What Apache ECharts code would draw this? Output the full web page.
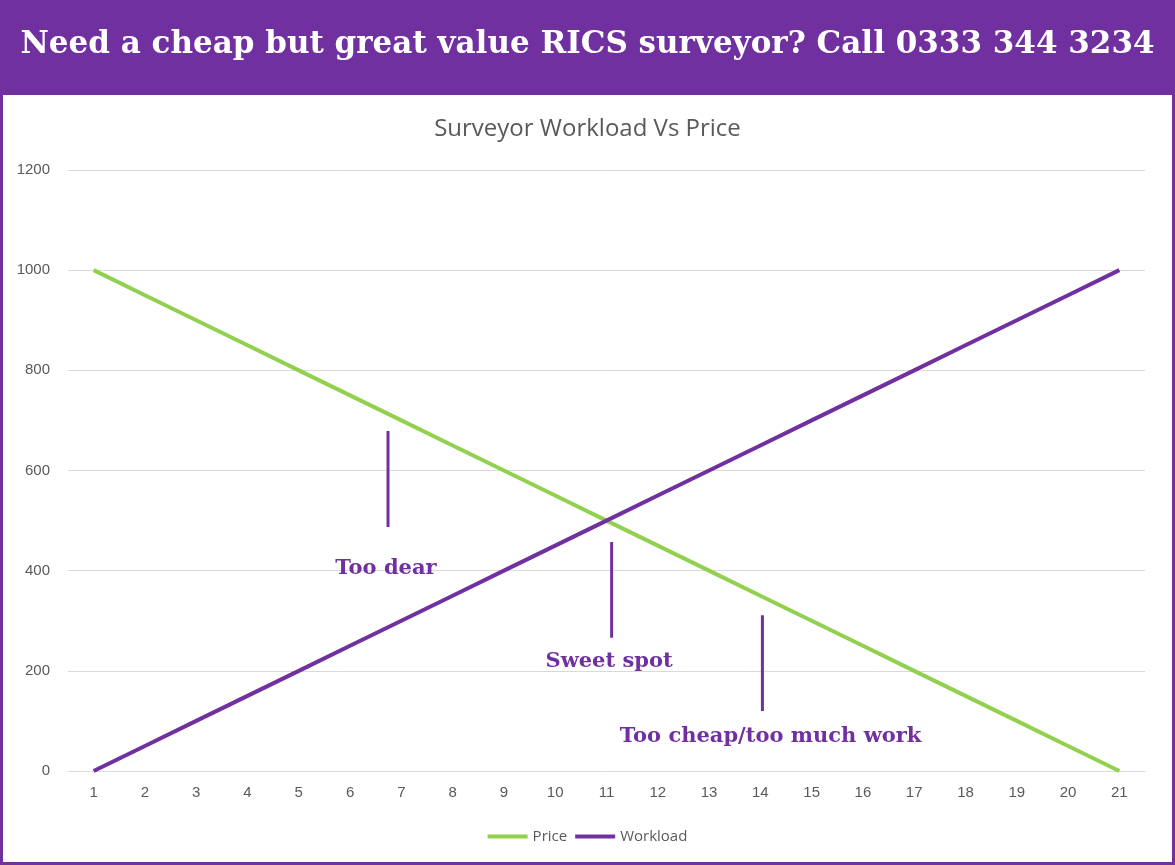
<!DOCTYPE html>
<html><head><meta charset="utf-8">
<script src="https://cdn.jsdelivr.net/npm/echarts@6/dist/echarts.min.js"></script>
<style>html,body{margin:0;padding:0;background:#fff}#c{width:1175px;height:865px}</style>
</head><body><div id="c"></div>
<script>
const categories = ['1','2','3','4','5','6','7','8','9','10','11','12','13','14','15','16','17','18','19','20','21'];
const price = [1000,950,900,850,800,750,700,650,600,550,500,450,400,350,300,250,200,150,100,50,0];
const workload = [0,50,100,150,200,250,300,350,400,450,500,550,600,650,700,750,800,850,900,950,1000];
const yTicks = {min:0, max:1200, interval:200};
const annoLines = [
  {x:6.74, y1:679, y2:487},
  {x:11.1, y1:457, y2:266},
  {x:14.04, y1:311, y2:120}
];
const annoTexts = [
  {x:6.7, y:405, text:'Too dear'},
  {x:11.05, y:218, text:'Sweet spot'},
  {x:14.2, y:68, text:'Too cheap/too much work'}
];
const purple = '#7030A0', green = '#92D050';
const chart = echarts.init(document.getElementById('c'));
const series = [
  {name:'Price', type:'line', data:price, symbol:'none', lineStyle:{color:green,width:4}, itemStyle:{color:green}},
  {name:'Workload', type:'line', data:workload, symbol:'none', lineStyle:{color:purple,width:4}, itemStyle:{color:purple}}
];
annoLines.forEach(a => series.push({type:'line', xAxisIndex:1, data:[[a.x,a.y1],[a.x,a.y2]], symbol:'none', lineStyle:{color:purple,width:3}, silent:true}));
series.push({type:'scatter', xAxisIndex:1, symbolSize:0, silent:true, itemStyle:{opacity:1},
  data: annoTexts.map(t => ({value:[t.x,t.y], label:{show:true, position:'inside', formatter:t.text, color:purple, opacity:1, fontFamily:'DejaVu Serif', fontWeight:900, fontSize:21}}))});
chart.setOption({
  animation:false,
  backgroundColor:'#fff',
  title:{text:'Surveyor Workload Vs Price', left:'center', top:112, textStyle:{color:'#595959', fontFamily:'Open Sans', fontWeight:'normal', fontSize:24}},
  legend:{data:['Price','Workload'], bottom:16, itemWidth:40, itemHeight:4, icon:'rect', textStyle:{color:'#595959', fontSize:15, fontFamily:'Open Sans'}},
  grid:{left:68, right:30, top:170, bottom:94},
  xAxis:[
    {type:'category', data:categories, boundaryGap:true, axisLine:{lineStyle:{color:'#d9d9d9'}}, axisTick:{show:false}, axisLabel:{color:'#595959', fontSize:15, margin:14}},
    {type:'value', min:0.5, max:21.5, show:false}
  ],
  yAxis:{type:'value', ...yTicks, axisLine:{show:false}, axisTick:{show:false}, splitLine:{lineStyle:{color:'#d9d9d9'}}, axisLabel:{color:'#595959', fontSize:15, margin:18, formatter:v => String(v)}},
  series:series,
  graphic:[
    {type:'rect', shape:{x:1.5,y:1.5,width:1172,height:862}, style:{fill:'none', stroke:purple, lineWidth:3}, z:100},
    {type:'rect', shape:{x:0,y:0,width:1175,height:95}, style:{fill:purple}, z:100},
    {type:'text', left:'center', top:29, z:101, style:{text:'Need a cheap but great value RICS surveyor? Call 0333 344 3234', fill:'#fff', font:'900 31px "DejaVu Serif"'}}
  ]
});
</script></body></html>
